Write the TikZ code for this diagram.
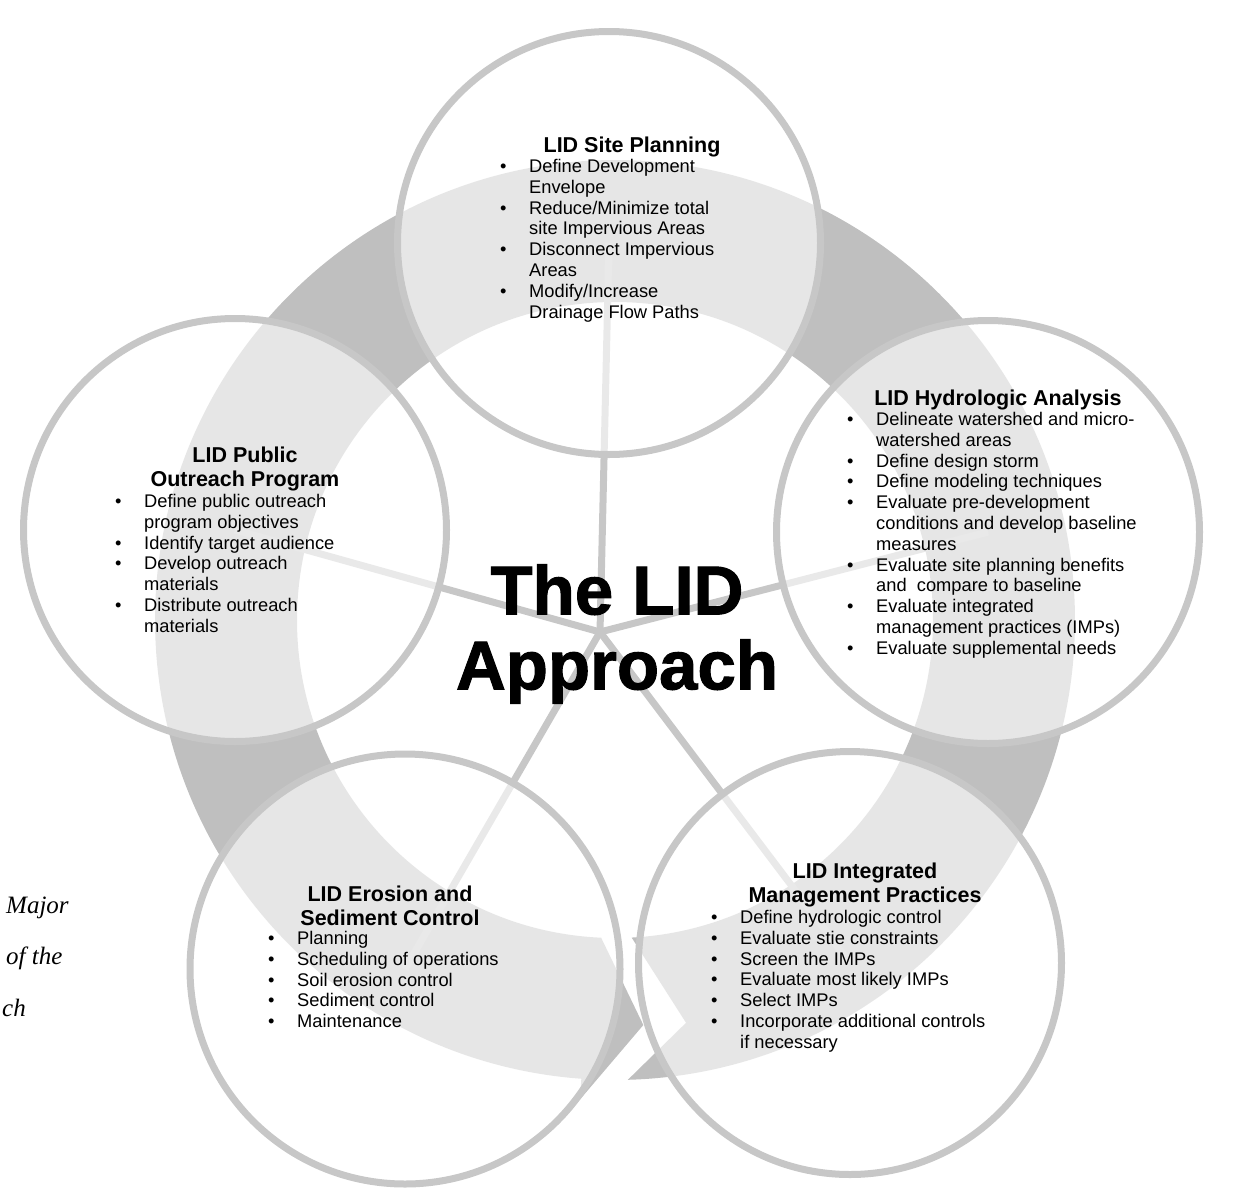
\documentclass[tikz,border=0pt]{standalone}
\usepackage{fontspec}
\setmainfont{Liberation Sans}
\newfontfamily\serifit{Liberation Serif}
\newfontfamily\blk{Liberation Sans}[FakeBold=1.5]
\usepackage{enumitem}
\begin{document}
\begin{tikzpicture}[x=1pt,y=-1pt,
  ring/.style={draw=black!22,line width=7pt,fill=white,fill opacity=0.62,circle,minimum size=423pt},
  spoke/.style={draw=black!22,line width=7pt},
  ttl/.style={font=\fontsize{21.5}{24}\selectfont\bfseries,align=center,inner sep=0pt},
  lst/.style={anchor=north west,inner sep=0pt,font=\fontsize{18.3}{20.8}\selectfont}]
\newcommand\mylist[1]{\begin{minipage}{380pt}\raggedright\begin{itemize}[leftmargin=29pt,labelwidth=29pt,labelsep=0pt,align=left,label={\textbullet},itemsep=0pt,topsep=0pt,parsep=0pt,partopsep=0pt]#1\end{itemize}\end{minipage}}
\useasboundingbox (0,0) rectangle (1236,1194);
% band arrow
\begin{scope}[shift={(615,620)}]
\fill[black!25] (88.4:460) arc[start angle=88.4,end angle=-265.8,radius=460]
  -- (-265.8:481) -- (-274:406) -- (-267.5:318)
  arc[start angle=-267.5,end angle=87,radius=318] -- (80:409) -- cycle;
\end{scope}
\coordinate (hub) at (600,632);
\coordinate (c1) at (609,243);
\coordinate (c2) at (988,532);
\coordinate (c3) at (235,530);
\coordinate (c4) at (405,969);
\coordinate (c5) at (850,963);
\foreach \c in {c1,c2,c3,c4,c5} \draw[spoke] (hub) -- (\c);
\node[ring] (k1) at (c1) {};
\node[ring] (k2) at (c2) {};
\node[ring] (k3) at (c3) {};
\node[ring,minimum size=430pt] (k4) at (c4) {};
\node[ring] (k5) at (c5) {};
% texts
\node[ttl] (t1) at (632,147) {LID Site Planning};
\node[lst] (l1) at (500,159) {\mylist{\item Define Development\\Envelope
\item Reduce/Minimize total\\site Impervious Areas
\item Disconnect Impervious\\Areas
\item Modify/Increase\\Drainage Flow Paths}};
\node[ttl] (t2) at (998,400) {LID Hydrologic Analysis};
\node[lst] (l2) at (847,412) {\mylist{\item Delineate watershed and micro-\\watershed areas
\item Define design storm
\item Define modeling techniques
\item Evaluate pre-development\\conditions and develop baseline\\measures
\item Evaluate site planning benefits\\and\ \ compare to baseline
\item Evaluate integrated\\management practices (IMPs)
\item Evaluate supplemental needs}};
\node[ttl] (t3) at (245,469) {LID Public\\Outreach Program};
\node[lst] (l3) at (115,494) {\mylist{\item Define public outreach\\program objectives
\item Identify target audience
\item Develop outreach\\materials
\item Distribute outreach\\materials}};
\node[ttl] (t4) at (390,906) {LID Erosion and\\Sediment Control};
\node[lst] (l4) at (268,931) {\mylist{\item Planning
\item Scheduling of operations
\item Soil erosion control
\item Sediment control
\item Maintenance}};
\node[ttl] (t5) at (865,885) {LID Integrated\\Management Practices};
\node[lst] (l5) at (711,910) {\mylist{\item Define hydrologic control
\item Evaluate stie constraints
\item Screen the IMPs
\item Evaluate most likely IMPs
\item Select IMPs
\item Incorporate additional controls\\if necessary}};
\node[font=\blk\fontsize{69}{75}\selectfont\bfseries,align=center,inner sep=0pt] (main) at (617,634) {The LID\\Approach};
\node[anchor=west,font=\serifit\itshape\fontsize{25}{28}\selectfont,inner sep=0pt] (m1) at (6,908) {Major};
\node[anchor=west,font=\serifit\itshape\fontsize{25}{28}\selectfont,inner sep=0pt] (m2) at (6,958) {of the};
\node[anchor=west,font=\serifit\itshape\fontsize{25}{28}\selectfont,inner sep=0pt] (m3) at (2,1008) {ch};
\end{tikzpicture}
\end{document}
